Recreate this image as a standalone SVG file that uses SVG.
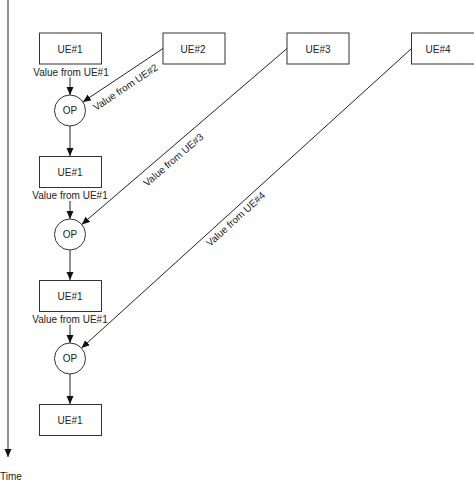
<svg xmlns="http://www.w3.org/2000/svg" width="474" height="482" viewBox="0 0 474 482">
<style>
text{font-family:"Liberation Sans",Arial,sans-serif;font-size:10px;fill:#222}
.box{fill:#fff;stroke:#333;stroke-width:1}
.op{fill:#fff;stroke:#333;stroke-width:1}
.ln{stroke:#222;stroke-width:1;fill:none}
.mid{text-anchor:middle}
</style>
<defs>
<marker id="ah" markerUnits="userSpaceOnUse" markerWidth="9" markerHeight="8" refX="8" refY="3.5" orient="auto">
<path d="M0,0 L8,3.5 L0,7 z" fill="#111"/>
</marker>
</defs>
<rect width="474" height="482" fill="#fff"/>
<g id="connectors">
<line class="ln" x1="8" y1="0" x2="8" y2="457" marker-end="url(#ah)"/>
<line class="ln" x1="70" y1="77.5" x2="70" y2="95" marker-end="url(#ah)"/>
<line class="ln" x1="70" y1="126" x2="70" y2="156" marker-end="url(#ah)"/>
<line class="ln" x1="70" y1="201" x2="70" y2="219" marker-end="url(#ah)"/>
<line class="ln" x1="70" y1="250" x2="70" y2="280" marker-end="url(#ah)"/>
<line class="ln" x1="70" y1="324.5" x2="70" y2="343" marker-end="url(#ah)"/>
<line class="ln" x1="70" y1="374" x2="70" y2="404" marker-end="url(#ah)"/>
<line class="ln" x1="163" y1="48.5" x2="82.9" y2="101.9" marker-end="url(#ah)"/>
<line class="ln" x1="287" y1="48.5" x2="81.8" y2="224.4" marker-end="url(#ah)"/>
<line class="ln" x1="411.5" y1="48.5" x2="81.5" y2="348.1" marker-end="url(#ah)"/>
<text x="0" y="480">Time</text>
<text class="mid" x="71" y="76">Value from UE#1</text>
<text class="mid" x="70" y="199">Value from UE#1</text>
<text class="mid" x="70" y="322.5">Value from UE#1</text>
<text transform="translate(96,111) rotate(-33.7)">Value from UE#2</text>
<text transform="translate(147,187) rotate(-40.6)">Value from UE#3</text>
<text transform="translate(210,247) rotate(-42.2)">Value from UE#4</text>
</g>
<g id="ue1a"><rect class="box" x="39.5" y="33" width="62" height="31"/><text class="mid" x="70" y="52.5">UE#1</text></g>
<g id="ue2"><rect class="box" x="163" y="33" width="62" height="31"/><text class="mid" x="193" y="52.5">UE#2</text></g>
<g id="ue3"><rect class="box" x="287" y="33" width="62" height="31"/><text class="mid" x="318" y="52.5">UE#3</text></g>
<g id="ue4"><rect class="box" x="411.5" y="33" width="66" height="31"/><text class="mid" x="438" y="52.5">UE#4</text></g>
<g id="op1"><circle class="op" cx="70" cy="110.5" r="15.5"/><text class="mid" x="70" y="114">OP</text></g>
<g id="ue1b"><rect class="box" x="39.5" y="156.5" width="62" height="31"/><text class="mid" x="70" y="176">UE#1</text></g>
<g id="op2"><circle class="op" cx="70" cy="234.5" r="15.5"/><text class="mid" x="70" y="238">OP</text></g>
<g id="ue1c"><rect class="box" x="39.5" y="280.5" width="62" height="31"/><text class="mid" x="70" y="300">UE#1</text></g>
<g id="op3"><circle class="op" cx="70" cy="358.5" r="15.5"/><text class="mid" x="70" y="362">OP</text></g>
<g id="ue1d"><rect class="box" x="39.5" y="404.5" width="62" height="31"/><text class="mid" x="70" y="424">UE#1</text></g>
</svg>
